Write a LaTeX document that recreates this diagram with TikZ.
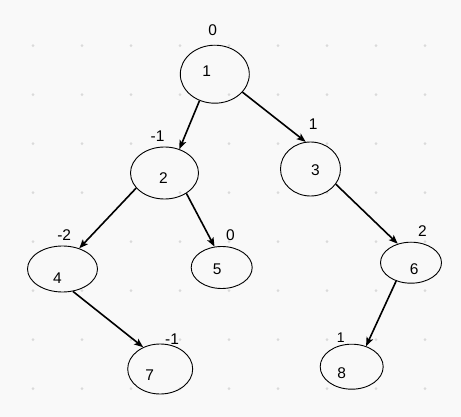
\documentclass[tikz,border=0pt]{standalone}
\usepackage{fontspec}
\setmainfont{Liberation Sans}
\usetikzlibrary{shapes.geometric,arrows.meta}
\definecolor{bgc}{HTML}{F9F9F9}
\definecolor{dotc}{HTML}{DADADA}
\begin{document}
\begin{tikzpicture}[x=1pt,y=-1pt,
  ell/.style={ellipse,draw=black,line width=0.9pt,minimum width=#1,inner sep=0pt},
  num/.style={inner sep=0pt,font=\fontsize{15.5}{16}\selectfont},
  edge/.style={line width=1.6pt,-{Stealth[length=9pt,width=7pt,inset=2pt]}}]
\useasboundingbox (0,0) rectangle (461,417);
\fill[bgc] (0,0) rectangle (461,417);
\foreach \i in {0,...,8}{\foreach \j in {0,...,7}{
  \fill[dotc] ({33+49*\i},{45.7+49*\j}) circle (1.5);}}
% ellipses
\node[ell=69pt,minimum height=58pt] (n1) at (214.8,74.2) {};
\node[ell=68pt,minimum height=52pt] (n2) at (164.5,173) {};
\node[ell=60pt,minimum height=54pt] (n3) at (310.5,169) {};
\node[ell=70pt,minimum height=46pt] (n4) at (62.5,269) {};
\node[ell=61pt,minimum height=42pt] (n5) at (221.7,267.5) {};
\node[ell=61pt,minimum height=41pt] (n6) at (411,262.7) {};
\node[ell=65pt,minimum height=50pt] (n7) at (160.2,369) {};
\node[ell=63pt,minimum height=45pt] (n8) at (351.7,366.7) {};
% numbers
\node[num] (t1) at (206.8,71.3) {1};
\node[num] (t2) at (163.5,178.5) {2};
\node[num] (t3) at (315.5,170.3) {3};
\node[num] (t4) at (57.5,277.7) {4};
\node[num] (t5) at (217.2,269.3) {5};
\node[num] (t6) at (414.2,269.2) {6};
\node[num] (t7) at (149.8,375.3) {7};
\node[num] (t8) at (341.7,373) {8};
% balance labels
\node[num] (b1) at (212.7,30.2) {0};
\node[num] (b2) at (157.5,136.5) {-1};
\node[num] (b3) at (313.3,124.2) {1};
\node[num] (b4) at (64.2,235.5) {-2};
\node[num] (b5) at (230.5,235.5) {0};
\node[num] (b6) at (422.5,231.5) {2};
\node[num] (b7) at (172,338.7) {-1};
\node[num,font=\fontsize{14}{15}\selectfont] (b8) at (340.7,337.3) {1};
% edges
\draw[edge] (n1.-120) -- (n2.58);
\draw[edge] (n1.-33) -- (n3.100);
\draw[edge] (n2.-152) -- (n4.51);
\draw[edge] (n2.-43) -- (n5.109);
\draw[edge] (n3.-31) -- (n6.125);
\draw[edge] (n4.-65) -- (n7.128);
\draw[edge] (n6.-129) -- (n8.55);
\end{tikzpicture}
\end{document}
